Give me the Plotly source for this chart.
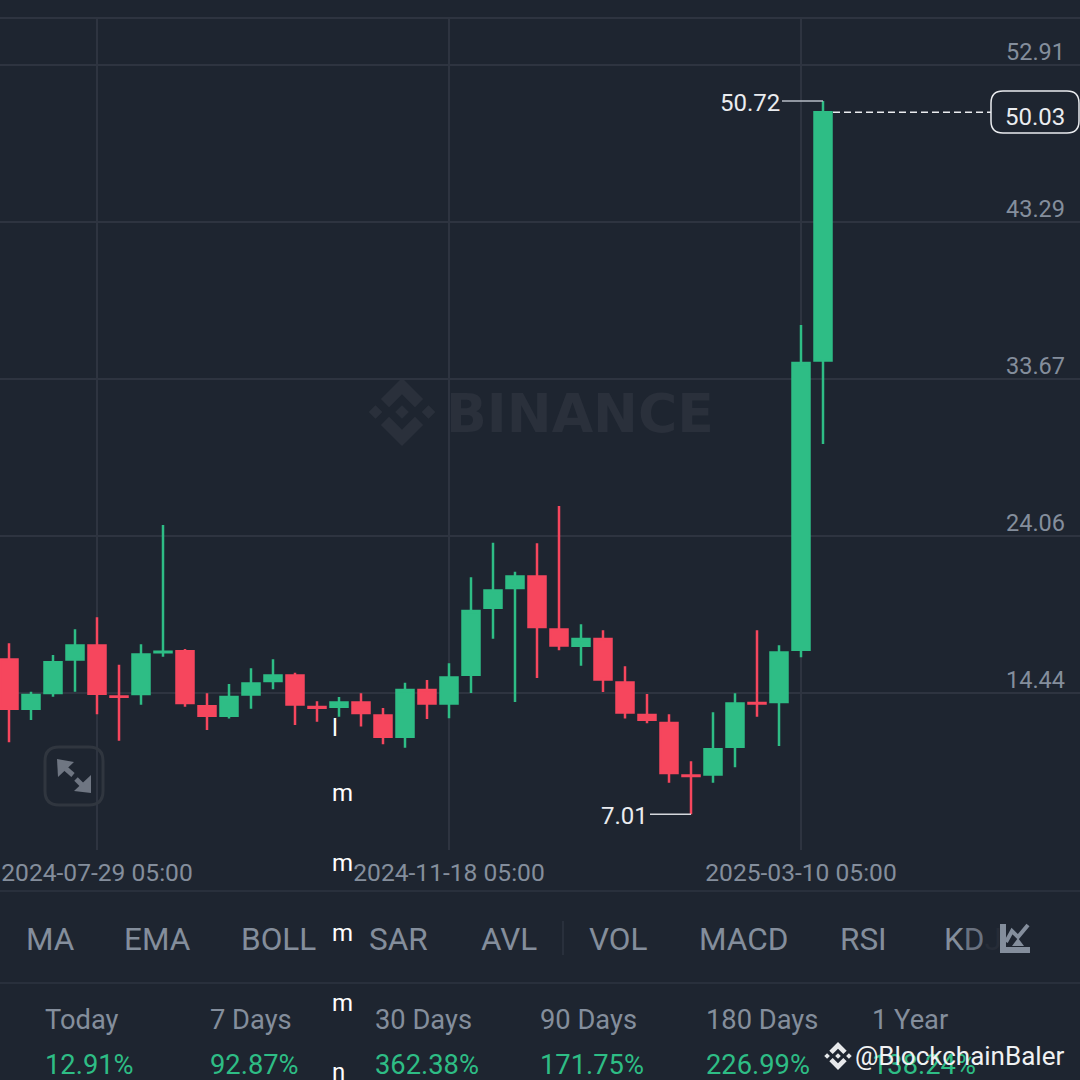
import pandas as pd
import plotly.graph_objects as go

# weekly candles
dates = [
    '2024-07-01 05:00', '2024-07-08 05:00', '2024-07-15 05:00', '2024-07-22 05:00', '2024-07-29 05:00',
    '2024-08-05 05:00', '2024-08-12 05:00', '2024-08-19 05:00', '2024-08-26 05:00',
    '2024-09-02 05:00', '2024-09-09 05:00', '2024-09-16 05:00', '2024-09-23 05:00', '2024-09-30 05:00',
    '2024-10-07 05:00', '2024-10-14 05:00', '2024-10-21 05:00', '2024-10-28 05:00',
    '2024-11-04 05:00', '2024-11-11 05:00', '2024-11-18 05:00', '2024-11-25 05:00',
    '2024-12-02 05:00', '2024-12-09 05:00', '2024-12-16 05:00', '2024-12-23 05:00', '2024-12-30 05:00',
    '2025-01-06 05:00', '2025-01-13 05:00', '2025-01-20 05:00', '2025-01-27 05:00',
    '2025-02-03 05:00', '2025-02-10 05:00', '2025-02-17 05:00', '2025-02-24 05:00',
    '2025-03-03 05:00', '2025-03-10 05:00', '2025-03-17 05:00',
]
opens = [16.49, 13.48, 14.44, 16.49, 17.35, 14.23, 14.38, 16.93, 17.00, 13.63,
         13.05, 14.35, 15.18, 15.51, 13.58, 13.60, 13.86, 13.06, 11.76, 14.62,
         13.80, 15.56, 19.67, 20.87, 21.58, 18.33, 17.34, 17.75, 15.08, 13.09,
         12.60, 9.39, 9.45, 11.15, 13.83, 13.89, 17.09, 34.81]
closes = [13.48, 14.31, 16.33, 17.35, 14.40, 14.21, 16.80, 16.97, 13.83, 13.05,
          14.20, 15.02, 15.51, 13.74, 13.54, 13.86, 13.21, 11.76, 14.62, 13.80,
          15.39, 19.46, 20.72, 21.58, 18.48, 17.35, 17.75, 15.26, 13.25, 12.80,
          9.54, 9.35, 11.00, 13.80, 13.79, 16.92, 34.66, 50.03]
highs = [17.49, 14.52, 16.77, 18.34, 19.08, 16.17, 17.42, 24.73, 17.14, 14.42,
         14.99, 15.95, 16.51, 15.68, 13.93, 14.20, 14.42, 13.52, 15.07, 15.24,
         16.26, 21.53, 23.65, 21.87, 23.61, 25.90, 18.65, 18.28, 16.08, 14.38,
         13.14, 10.26, 13.26, 14.42, 18.28, 17.36, 36.99, 50.72]
lows = [11.42, 12.79, 14.21, 14.52, 13.14, 11.52, 13.72, 16.66, 13.60, 12.17,
        12.87, 13.48, 14.67, 12.48, 12.68, 12.99, 12.38, 11.30, 11.09, 12.85,
        12.89, 14.44, 17.77, 13.89, 15.36, 17.06, 16.11, 14.50, 12.87, 12.58,
        8.94, 7.01, 8.94, 9.89, 12.99, 11.19, 16.63, 29.70]

price_ticks = [52.91, 43.29, 33.67, 24.06, 14.44, 4.82]
date_ticks = ['2024-07-29 05:00', '2024-11-18 05:00', '2025-03-10 05:00']

high_label = '50.72'
low_label = '7.01'
last_label = '50.03'

indicators = ['MA', 'EMA', 'BOLL', 'SAR', 'AVL', 'VOL', 'MACD', 'RSI']
stat_labels = ['Today', '7 Days', '30 Days', '90 Days', '180 Days', '1 Year']
stat_values = ['12.91%', '92.87%', '362.38%', '171.75%', '226.99%', '138.24%']
stray_letters = ['l', 'm', 'm', 'm', 'm', 'n']

BG = '#1E2530'
GRID = '#2E3440'
GREY = '#848E9C'
GREEN = '#2EBD85'
RED = '#F6465D'
MARK = '#2A303B'
FONT = 'Roboto'

# pixel helpers, the page is 1080 square with no margin
def px(x):
    return x / 1080

def py(y):
    return 1 - y / 1080

def poly(points, close=True):
    path = 'M' + ' L'.join('%.5f,%.5f' % (px(x), py(y)) for x, y in points)
    return path + (' Z' if close else '')

def fill_shape(points, color, layer='above'):
    return dict(type='path', xref='paper', yref='paper', path=poly(points), fillcolor=color,
                line=dict(width=0), layer=layer)

def open_shape(points, color, width):
    return dict(type='path', xref='paper', yref='paper', path=poly(points, False),
                line=dict(color=color, width=width))

def hline(y, color=GRID, width=1.5, x0=0, x1=1080):
    return dict(type='line', xref='paper', yref='paper', x0=px(x0), x1=px(x1), y0=py(y), y1=py(y),
                line=dict(color=color, width=width), layer='below')

def round_rect(x0, y0, x1, y1, r, color, width, fill='rgba(0,0,0,0)'):
    path = 'M%.5f,%.5f' % (px(x0 + r), py(y0))
    path += ' L%.5f,%.5f' % (px(x1 - r), py(y0))
    path += ' Q%.5f,%.5f %.5f,%.5f' % (px(x1), py(y0), px(x1), py(y0 + r))
    path += ' L%.5f,%.5f' % (px(x1), py(y1 - r))
    path += ' Q%.5f,%.5f %.5f,%.5f' % (px(x1), py(y1), px(x1 - r), py(y1))
    path += ' L%.5f,%.5f' % (px(x0 + r), py(y1))
    path += ' Q%.5f,%.5f %.5f,%.5f' % (px(x0), py(y1), px(x0), py(y1 - r))
    path += ' L%.5f,%.5f' % (px(x0), py(y0 + r))
    path += ' Q%.5f,%.5f %.5f,%.5f Z' % (px(x0), py(y0), px(x0 + r), py(y0))
    return dict(type='path', xref='paper', yref='paper', path=path, fillcolor=fill,
                line=dict(color=color, width=width))

def logo_shapes(cx, cy, s, color, layer):
    # s is the half width of the whole mark
    def rel(points):
        return [(cx + a * s, cy + b * s) for a, b in points]
    small = 0.2
    shapes = []
    for dx, dy in [(-0.78, 0), (0, 0), (0.78, 0)]:
        shapes.append(fill_shape(rel([(dx, dy - small), (dx + small, dy), (dx, dy + small), (dx - small, dy)]),
                                 color, layer))
    top = [(0, -1), (0.62, -0.38), (0.38, -0.14), (0, -0.52), (-0.38, -0.14), (-0.62, -0.38)]
    shapes.append(fill_shape(rel(top), color, layer))
    shapes.append(fill_shape(rel([(a, -b) for a, b in top]), color, layer))
    return shapes

def text(x, y, s, size, color, anchor='left', weight=None, family=FONT):
    return dict(xref='paper', yref='paper', x=px(x), y=py(y), text=s, showarrow=False,
                xanchor=anchor, yanchor='middle', borderpad=0,
                font=dict(family=family, size=size, color=color, weight=weight))

shapes = [hline(18, width=2), hline(891), hline(983)]
shapes.append(dict(type='line', xref='paper', yref='paper', x0=px(563), x1=px(563), y0=py(921), y1=py(955),
                   line=dict(color=GRID, width=1.5)))
shapes += logo_shapes(402, 412, 34, MARK, 'below')

# last price line and tag
shapes.append(dict(type='line', xref='paper', yref='y', x0=px(833), x1=px(991), y0=closes[-1], y1=closes[-1],
                   line=dict(color='#EAECEF', width=1.5, dash='7px,4px')))
shapes.append(round_rect(991, 91, 1079, 133, 12, '#EAECEF', 1.5, BG))

# high / low leaders
shapes.append(dict(type='line', xref='paper', yref='y', x0=px(782), x1=px(823), y0=highs[-1], y1=highs[-1],
                   line=dict(color='#B7BDC6', width=1.5)))
low_i = lows.index(min(lows))
shapes.append(dict(type='line', xref='paper', yref='y', x0=px(650), x1=px(691), y0=lows[low_i], y1=lows[low_i],
                   line=dict(color='#D5D8DC', width=1.5)))

# expand button
shapes.append(round_rect(45, 747, 103, 805, 14, '#30363F', 3))
shapes.append(fill_shape([(57, 759), (74, 762), (58, 777)], '#6F7682'))
shapes.append(fill_shape([(91, 793), (74, 791), (91, 775)], '#6F7682'))
shapes.append(open_shape([(65, 768), (73, 775)], '#6F7682', 5))
shapes.append(open_shape([(76, 779), (83, 786)], '#6F7682', 5))

# chart icon next to the indicators
shapes.append(open_shape([(1003, 924), (1003, 950), (1030, 950)], GREY, 6))
shapes.append(open_shape([(1006, 942), (1012, 931), (1018, 937), (1028, 925)], GREY, 4))
shapes.append(fill_shape([(1012, 946), (1024, 946), (1018, 938)], GREY))

# watermark logo
shapes += logo_shapes(838, 1056, 14, '#E6E8EA', 'above')

annotations = []
annotations.append(text(445, 413, 'BINANCE', 53.6, MARK, weight=700, family='DejaVu Sans'))
annotations.append(text(781, 103, high_label, 24, '#EAECEF', 'right'))
annotations.append(text(649, 816, low_label, 24, '#EAECEF', 'right'))
annotations.append(text(1035, 117, last_label, 24, '#EAECEF', 'center'))

indicator_x = [24.5, 122.5, 239.5, 367.5, 479.5, 587.5, 697.5, 838.5]
for name, x in zip(indicators, indicator_x):
    annotations.append(text(x, 939.5, name, 31.5, GREY))
annotations.append(text(942.5, 939.5, 'K<span style="color:#6A7280">D</span><span style="color:#262C37">J</span>', 31.5, GREY))

stat_x = [44, 209, 374, 539, 705, 871]
for label, value, x in zip(stat_labels, stat_values, stat_x):
    annotations.append(text(x, 1020, label, 27.3, GREY))
    annotations.append(text(x, 1065, value, 27.3, GREEN))

stray_y = [728, 793, 863, 933, 1003, 1072]
for letter, y in zip(stray_letters, stray_y):
    annotations.append(text(331, y, letter, 24, '#FFFFFF'))

annotations.append(text(1065, 1056, '@BlockchainBaler', 26, '#F0F1F2', 'right'))

candles = go.Candlestick(
    x=dates, open=opens, high=highs, low=lows, close=closes,
    whiskerwidth=0,
    increasing=dict(line=dict(color=GREEN, width=2.5), fillcolor=GREEN),
    decreasing=dict(line=dict(color=RED, width=2.5), fillcolor=RED),
)
fig = go.Figure(data=[candles])

# 22px per week, 16.32px per price unit, same scale as the gridlines
first_tick = pd.Timestamp(date_ticks[0])
x_left = first_tick - pd.Timedelta(days=97 * 7 / 22)
x_right = first_tick + pd.Timedelta(days=983 * 7 / 22)
y_low = price_ticks[-1]
y_high = price_ticks[-1] + 832 / 16.32

fig.update_layout(
    width=1080, height=1080,
    margin=dict(l=0, r=0, t=0, b=0),
    paper_bgcolor=BG, plot_bgcolor=BG,
    showlegend=False,
    boxgap=0.227, boxgroupgap=0,
    shapes=shapes, annotations=annotations,
    font=dict(family=FONT, color=GREY),
    xaxis=dict(
        type='date', domain=[0, 1], range=[x_left, x_right],
        tickmode='array', tickvals=date_ticks, ticktext=date_ticks,
        showgrid=True, gridcolor=GRID, gridwidth=1.5,
        zeroline=False, showline=False, rangeslider=dict(visible=False),
        ticks='', ticklen=0, ticklabelstandoff=5,
        tickfont=dict(size=24.6, color=GREY), tickangle=0,
    ),
    yaxis=dict(
        domain=[1 - 850 / 1080, 1 - 18 / 1080], range=[y_low, y_high],
        side='right', ticklabelposition='inside',
        tickmode='array', tickvals=price_ticks, ticktext=['%.2f' % v for v in price_ticks],
        ticklabelstandoff=12, ticklabelshift=-13,
        showgrid=True, gridcolor=GRID, gridwidth=1.5,
        zeroline=False, showline=False, ticks='',
        tickfont=dict(size=23.5, color=GREY),
    ),
)

fig.write_html('out.html', config={'displayModeBar': False},
               post_script="document.body.style.margin='0';")
